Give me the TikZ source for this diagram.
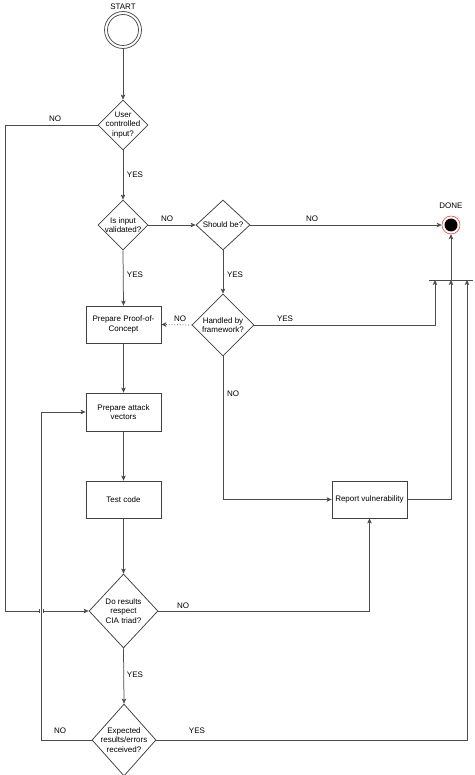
\documentclass[tikz,border=0pt]{standalone}
\usepackage{fontspec}
\setmainfont{Liberation Sans}
\usetikzlibrary{shapes.geometric,arrows.meta}
\newcommand\fsz{\fontsize{8}{9.5}\selectfont}
\begin{document}
\begin{tikzpicture}[x=1pt,y=-1pt]
\tikzset{
 ln/.style={draw=black!70, line width=0.75pt},
 arr/.style={ln, -{Stealth[length=5pt,width=4.5pt,inset=1.2pt]}},
 dia/.style={diamond, draw=black!75, line width=0.75pt, inner sep=0pt, fill=white},
 boxn/.style={rectangle, draw=black!75, line width=0.75pt, inner sep=0pt, minimum width=75pt, minimum height=37pt, align=center, font=\fsz, fill=white},
 txt/.style={align=center, font=\fsz, inner sep=0pt},
 lbl/.style={font=\fsz, inner sep=0pt},
}
\useasboundingbox[fill=white] (0,0) rectangle (474,775);

% start
\node[circle, draw=black!70, line width=0.75pt, minimum size=37pt, inner sep=0pt] (start) at (123,30) {};
\draw[ln] (start.center) circle (15.5pt);
\node[lbl] (startl) at (123,7) {START};

% done
\node[circle, draw=red!85, line width=0.5pt, minimum size=18pt, inner sep=0pt] (done) at (451,225) {};
\fill[black] (done.center) circle (6.5pt);
\node[lbl] (donel) at (451,206) {DONE};

% decisions
\node[dia, minimum width=50pt, minimum height=50pt] (d1) at (123,125) {};
\node[txt] (d1t) at (d1) {User\\controlled\\input?};
\node[dia, minimum width=50pt, minimum height=50pt] (d2) at (123,225) {};
\node[txt] (d2t) at (d2) {Is input\\validated?};
\node[dia, minimum width=54pt, minimum height=50pt] (d3) at (223,225) {};
\node[txt] (d3t) at (d3) {Should be?};
\node[dia, minimum width=62pt, minimum height=62pt] (d4) at (223,325) {};
\node[txt] (d4t) at (d4) {Handled by\\framework?};
\node[dia, minimum width=69pt, minimum height=74pt] (d5) at (123.5,611) {};
\node[txt] (d5t) at (d5) {Do results\\respect\\CIA triad?};
\node[dia, minimum width=64pt, minimum height=72pt] (d6) at (124,740) {};
\node[txt] (d6t) at (d6) {Expected\\results/errors\\received?};

% boxes
\node[boxn] (poc) at (123.5,324.5) {Prepare Proof-of-\\Concept};
\node[boxn, minimum height=38pt] (pav) at (123.5,412) {Prepare attack\\vectors};
\node[boxn] (test) at (123.5,499.5) {Test code};
\node[boxn] (rep) at (369.5,499.5) {Report vulnerability};

% bar
\coordinate (barL) at (429,280);
\coordinate (barR) at (473,280);
\coordinate (b1) at (435,280);
\coordinate (b2) at (451,280);
\coordinate (b3) at (467,280);
\draw[ln] (barL) -- (barR);

% helper coordinates
\coordinate (o1) at (5,125);
\coordinate (o2) at (5,611);
\coordinate (j1) at (39,611);
\coordinate (j2) at (43,611);
\coordinate (l1) at (41,740);

% connectors
\draw[arr] (start.south) -- (d1.north);
\draw[ln] (d1.west) -- (o1) -- (o2) -- (j1);
\draw[arr] (j2) -- (d5.west);
\draw[ln] ([yshift=2pt]j1) -- ([yshift=-2pt]j1);
\draw[ln] ([yshift=2pt]j2) -- ([yshift=-2pt]j2);
\draw[arr] (d1.south) -- (d2.north);
\draw[arr] (d2.east) -- (d3.west);
\draw[arr] (d3.east) -- (done.west);
\draw[arr] (d3.south) -- (d4.north);
\draw[arr, dotted] (d4.west) -- (poc.east);
\draw[arr] (d4.east) -| (b1);
\draw[arr] (d2.south) -- (poc.north);
\draw[arr] (poc.south) -- (pav.north);
\draw[arr] (pav.south) -- (test.north);
\draw[arr] (test.south) -- (d5.north);
\draw[arr] (d4.south) |- (rep.west);
\draw[arr] (rep.east) -| (b2);
\draw[arr] (b2) -- (done.south);
\draw[arr] (d5.east) -| (rep.south);
\draw[arr] (d5.south) -- (d6.north);
\draw[arr] (d6.west) -- (l1) |- (pav.west);
\draw[arr] (d6.east) -| (b3);

% labels
\node[lbl] (n1) at (55,119) {NO};
\node[lbl] (y1) at (135,175) {YES};
\node[lbl] (n2) at (167,219) {NO};
\node[lbl] (n3) at (312,219) {NO};
\node[lbl] (y2) at (135,275) {YES};
\node[lbl] (y3) at (235,275) {YES};
\node[lbl] (n4) at (180,319) {NO};
\node[lbl] (y4) at (285,319) {YES};
\node[lbl] (n5) at (233,394) {NO};
\node[lbl] (n6) at (183,606) {NO};
\node[lbl] (y5) at (135,675) {YES};
\node[lbl] (n7) at (60,731) {NO};
\node[lbl] (y6) at (197,731) {YES};
\end{tikzpicture}
\end{document}
